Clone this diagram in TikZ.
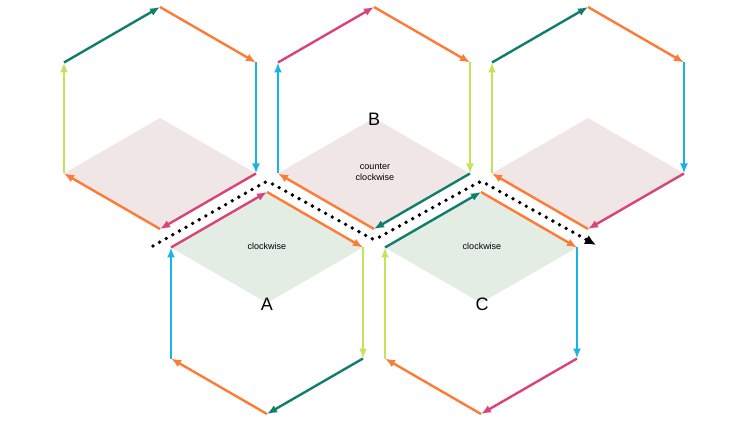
\documentclass[tikz,border=0pt]{standalone}
\usepackage{fontspec}
\setmainfont{Liberation Sans}
\usetikzlibrary{arrows.meta}
\definecolor{corange}{HTML}{FF7A35}
\definecolor{cteal}{HTML}{0F7E6A}
\definecolor{ccyan}{HTML}{18B4E6}
\definecolor{cpink}{HTML}{D8437A}
\definecolor{clime}{HTML}{C2E35A}
\definecolor{fillpink}{HTML}{F1E6E6}
\definecolor{fillgreen}{HTML}{E4EDE3}
\begin{document}
\begin{tikzpicture}[x=1pt,y=-1pt,
  edge/.style={line width=2.4pt,-{Latex[length=10pt,width=8pt]}},
  pathline/.style={line width=3.8pt,dash pattern=on 0pt off 7.6pt,line cap=round,rounded corners=3pt,-{Latex[length=11pt,width=10pt]}},
  biglabel/.style={font=\fontsize{18}{20}\selectfont,inner sep=0pt},
  smalllabel/.style={font=\fontsize{9}{11}\selectfont,align=center,inner sep=0pt}]
\useasboundingbox (0,0) rectangle (750,422);
\foreach \n/\cx/\cy in {h1/160/118, hB/374/118, h3/588/118, hA/267/303, hC/481/303} {
  \coordinate (\n C) at (\cx,\cy);
  \coordinate (\n T) at (\cx,\cy-111);
  \coordinate (\n UR) at (\cx+96,\cy-55.5);
  \coordinate (\n LR) at (\cx+96,\cy+55.5);
  \coordinate (\n B) at (\cx,\cy+111);
  \coordinate (\n LL) at (\cx-96,\cy+55.5);
  \coordinate (\n UL) at (\cx-96,\cy-55.5);
}
% shaded diamonds
\foreach \n in {h1,hB,h3}
  \fill[fillpink] (\n LL) -- (\n B) -- (\n LR) -- (\n C) -- cycle;
\foreach \n in {hA,hC}
  \fill[fillgreen] (\n UL) -- (\n T) -- (\n UR) -- (\n C) -- cycle;
% edges
\foreach \n/\a/\b/\c/\d in {h1/cteal/ccyan/cpink/clime, h3/cteal/ccyan/cpink/clime, hC/cteal/ccyan/cpink/clime,
                            hB/cpink/clime/cteal/ccyan, hA/cpink/clime/cteal/ccyan} {
  \draw[edge,\a] (\n UL) -- (\n T);
  \draw[edge,corange] (\n T) -- (\n UR);
  \draw[edge,\b] (\n UR) -- (\n LR);
  \draw[edge,\c] (\n LR) -- (\n B);
  \draw[edge,corange] (\n B) -- (\n LL);
  \draw[edge,\d] (\n LL) -- (\n UL);
}
% dotted path
\coordinate (d0) at (153,246);
\coordinate (d1) at (267,181);
\coordinate (d2) at (374,240);
\coordinate (d3) at (481,181);
\coordinate (d4) at (596,245);
\draw[pathline] (d0) -- (d1) -- (d2) -- (d3) -- (d4);
% labels
\node[biglabel] (labB) at (374,119) {B};
\node[biglabel] (labA) at (267,304) {A};
\node[biglabel] (labC) at (482,304) {C};
\node[smalllabel] (ccw) at (375,172) {counter\\clockwise};
\node[smalllabel] (cwA) at (267,246) {clockwise};
\node[smalllabel] (cwC) at (482,246) {clockwise};
\end{tikzpicture}
\end{document}
